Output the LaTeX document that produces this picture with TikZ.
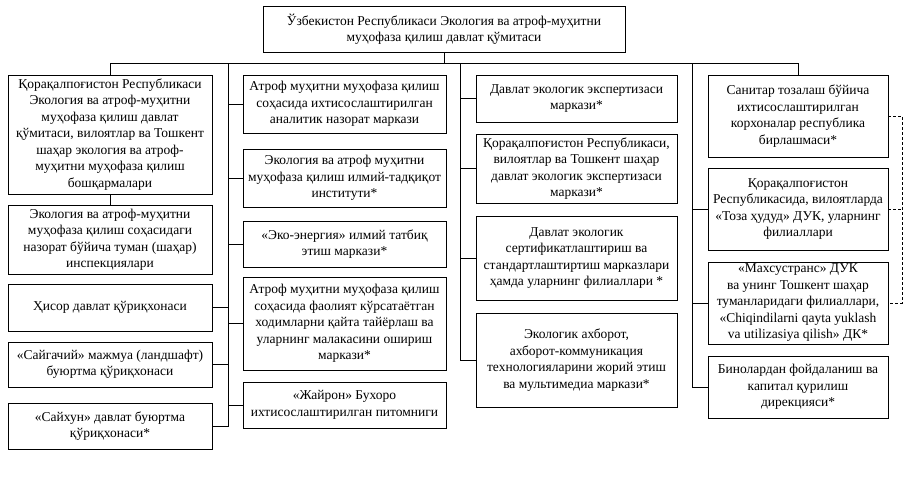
\documentclass[tikz,border=0pt]{standalone}
\usepackage{fontspec}
\setmainfont{Liberation Serif}
\usepackage{tikz}

\tikzset{
  unit/.style={draw=black, line width=0.9pt, align=center, inner xsep=2pt, inner ysep=1pt,
               font=\fontsize{13.5}{16.5}\selectfont},
  link/.style={draw=black, line width=0.8pt},
  dotlink/.style={draw=black, line width=0.8pt, densely dashed}
}

\begin{document}
\begin{tikzpicture}[x=1pt, y=-1pt]
    \useasboundingbox (0,0) rectangle (915,483);
    % committee
    \node[unit, minimum width=362pt, minimum height=46pt] (top) at (444,29) {Ўзбекистон Республикаси Экология ва атроф-муҳитни\\муҳофаза қилиш давлат қўмитаси};
    % first column
    \node[unit, minimum width=204pt, minimum height=119pt] (l1) at (110,134.5) {Қорақалпоғистон Республикаси\\Экология ва атроф-муҳитни\\муҳофаза қилиш давлат\\қўмитаси, вилоятлар ва Тошкент\\шаҳар экология ва атроф-\\муҳитни муҳофаза қилиш\\бошқармалари};
    \node[unit, minimum width=204pt, minimum height=69pt] (l2) at (110,239.5) {Экология ва атроф-муҳитни\\муҳофаза қилиш соҳасидаги\\назорат бўйича туман (шаҳар)\\инспекциялари};
    \node[unit, minimum width=204pt, minimum height=47pt] (l3) at (110,307.5) {Ҳисор давлат қўриқхонаси};
    \node[unit, minimum width=204pt, minimum height=45pt] (l4) at (110,364.5) {«Сайгачий» мажмуа (ландшафт)\\буюртма қўриқхонаси};
    \node[unit, minimum width=204pt, minimum height=46pt] (l5) at (110,426) {«Сайхун» давлат буюртма\\қўриқхонаси*};
    % second column
    \node[unit, minimum width=203pt, minimum height=58pt] (b1) at (344.5,104) {Атроф муҳитни муҳофаза қилиш\\соҳасида ихтисослаштирилган\\аналитик назорат маркази};
    \node[unit, minimum width=203pt, minimum height=58pt] (b2) at (344.5,178) {Экология ва атроф муҳитни\\муҳофаза қилиш илмий-тадқиқот\\институти*};
    \node[unit, minimum width=203pt, minimum height=46pt] (b3) at (344.5,244) {«Эко-энергия» илмий татбиқ\\этиш маркази*};
    \node[unit, minimum width=203pt, minimum height=93pt] (b4) at (344.5,323.5) {Атроф муҳитни муҳофаза қилиш\\соҳасида фаолият кўрсатаётган\\ходимларни қайта тайёрлаш ва\\уларнинг малакасини ошириш\\маркази*};
    \node[unit, minimum width=203pt, minimum height=46pt] (b5) at (344.5,405) {«Жайрон» Бухоро\\ихтисослаштирилган питомниги};
    % third column
    \node[unit, minimum width=201pt, minimum height=47pt] (c1) at (576.5,98.5) {Давлат экологик экспертизаси\\маркази*};
    \node[unit, minimum width=201pt, minimum height=69pt] (c2) at (576.5,168.5) {Қорақалпоғистон Республикаси,\\вилоятлар ва Тошкент шаҳар\\давлат экологик экспертизаси\\маркази*};
    \node[unit, minimum width=201pt, minimum height=84pt] (c3) at (576.5,258) {Давлат экологик\\сертификатлаштириш ва\\стандартлаштиртиш марказлари\\ҳамда уларнинг филиаллари *};
    \node[unit, minimum width=201pt, minimum height=94pt] (c4) at (576.5,360) {Экологик ахборот,\\ахборот-коммуникация\\технологияларини жорий этиш\\ва мультимедиа маркази*};
    % fourth column
    \node[unit, minimum width=180pt, minimum height=82pt] (d1) at (798,116) {Санитар тозалаш бўйича\\ихтисослаштирилган\\корхоналар республика\\бирлашмаси*};
    \node[unit, minimum width=180pt, minimum height=82pt] (d2) at (798,209) {Қорақалпоғистон\\Республикасида, вилоятларда\\«Тоза ҳудуд» ДУК, уларнинг\\филиаллари};
    \node[unit, minimum width=180pt, minimum height=82pt] (d3) at (798,303) {«Махсустранс» ДУК\\ва унинг Тошкент шаҳар\\туманларидаги филиаллари,\\«Chiqindilarni qayta yuklash\\va utilizasiya qilish» ДК*};
    \node[unit, minimum width=180pt, minimum height=62pt] (d4) at (798,387) {Бинолардан фойдаланиш ва\\капитал қурилиш\\дирекцияси*};

    % bus points
    \coordinate (bus)  at (0,63);
    \coordinate (col2) at (228,63);
    \coordinate (col3) at (460,63);
    \coordinate (col4) at (692,63);
    \coordinate (side) at (902,0);

    \draw[link] (top.south) -- (top.south |- bus);
    \draw[link] (l1.north) -- (l1.north |- bus) -- (d1.north |- bus) -- (d1.north);
    \draw[link] (l1.south) -- (l2.north);
    \draw[link] (col2) |- (l5.east);
    \draw[link] (col2 |- l3.east) -- (l3.east);
    \draw[link] (col2 |- l4.east) -- (l4.east);
    \draw[link] (col2 |- b1.west) -- (b1.west);
    \draw[link] (col2 |- b2.west) -- (b2.west);
    \draw[link] (col2 |- b3.west) -- (b3.west);
    \draw[link] (col2 |- b4.west) -- (b4.west);
    \draw[link] (col2 |- b5.west) -- (b5.west);
    \draw[link] (col3) |- (c4.west);
    \draw[link] (col3 |- c1.west) -- (c1.west);
    \draw[link] (col3 |- c2.west) -- (c2.west);
    \draw[link] (col3 |- c3.west) -- (c3.west);
    \draw[link] (col4) |- (d4.west);
    \draw[link] (col4 |- d2.west) -- (d2.west);
    \draw[link] (col4 |- d3.west) -- (d3.west);
    % dashed ties on the right
    \draw[dotlink] (d1.east) -- (side |- d1.east) |- (d3.east);
    \draw[dotlink] (d2.east) -- (side |- d2.east);
  \end{tikzpicture}
\end{document}
